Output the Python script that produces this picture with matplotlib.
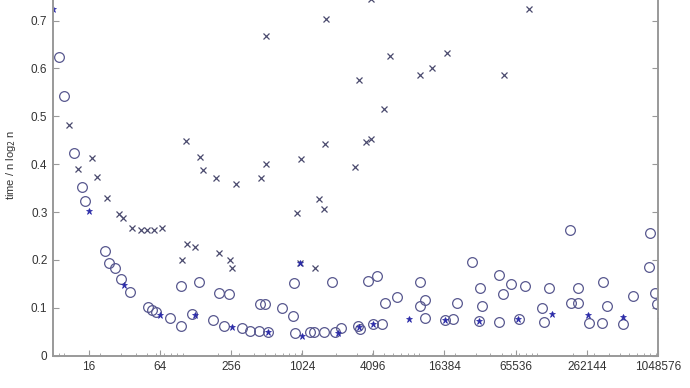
import numpy as np
import matplotlib
matplotlib.use("Agg")
import matplotlib.pyplot as plt
from matplotlib.ticker import FixedLocator, LogLocator, NullFormatter

# circles
n_circ = [9, 10, 12, 14, 15, 22, 24, 27, 30, 36, 51, 55, 60, 78, 96, 96, 120, 137,
          182, 203, 223, 247, 317, 370, 443, 527, 452, 494, 690, 860, 875, 890,
          1200, 1300, 1575, 1830, 1940, 2180, 3050, 3150, 3660, 4100, 4390, 4900,
          5180, 6520, 10100, 10230, 11270, 11300, 16400, 19300, 21000, 28000,
          32000, 32500, 33900, 47000, 47500, 51500, 60300, 69500, 78000, 110000,
          113000, 125000, 190000, 194000, 219000, 222000, 273000, 355000, 360000,
          385000, 535000, 640000, 880000, 890000, 980000, 1020000]
t_circ = [0.623, 0.543, 0.424, 0.353, 0.323, 0.219, 0.193, 0.183, 0.160, 0.134,
          0.102, 0.095, 0.091, 0.078, 0.146, 0.062, 0.087, 0.155, 0.074, 0.132,
          0.063, 0.129, 0.057, 0.052, 0.052, 0.049, 0.109, 0.109, 0.100, 0.084,
          0.151, 0.047, 0.049, 0.049, 0.049, 0.153, 0.049, 0.057, 0.062, 0.055,
          0.156, 0.066, 0.167, 0.066, 0.111, 0.123, 0.153, 0.104, 0.116, 0.078,
          0.075, 0.077, 0.111, 0.196, 0.0725, 0.141, 0.104, 0.169, 0.071, 0.128,
          0.149, 0.076, 0.146, 0.099, 0.071, 0.141, 0.263, 0.111, 0.111, 0.142,
          0.068, 0.068, 0.153, 0.104, 0.066, 0.125, 0.186, 0.256, 0.130, 0.107]

# crosses
n_x = [11, 13, 17, 19, 23, 29, 31, 37, 44, 50, 57, 67, 98, 107, 109, 127, 139,
       150, 192, 202, 252, 261, 281, 463, 504, 504, 935, 977, 998, 1320, 1428,
       1573, 1595, 1630, 2880, 3120, 3550, 3920, 3920, 5000, 5680, 10200, 12900,
       17150, 52000, 84900]
t_x = [0.481, 0.390, 0.414, 0.374, 0.329, 0.296, 0.288, 0.267, 0.262, 0.262,
       0.262, 0.267, 0.200, 0.449, 0.233, 0.228, 0.416, 0.388, 0.372, 0.215,
       0.200, 0.183, 0.358, 0.372, 0.400, 0.668, 0.299, 0.193, 0.410, 0.184,
       0.327, 0.306, 0.442, 0.703, 0.394, 0.576, 0.446, 0.452, 0.745, 0.515,
       0.625, 0.587, 0.602, 0.633, 0.587, 0.724]

# stars
n_star = [8, 16, 32, 64, 128, 261, 527, 977, 1030, 2048, 3100, 4100, 8260, 16400,
          32000, 68800, 134000, 270000, 535000, 1080000]
t_star = [0.724, 0.302, 0.148, 0.086, 0.085, 0.059, 0.049, 0.193, 0.041, 0.047,
          0.060, 0.066, 0.076, 0.075, 0.073, 0.076, 0.0865, 0.085, 0.0815, 0.077]

xticks = [16, 64, 256, 1024, 4096, 16384, 65536, 262144, 1048576]
yticks = [0, 0.1, 0.2, 0.3, 0.4, 0.5, 0.6, 0.7]

plt.rcParams['font.family'] = ['Liberation Sans', 'DejaVu Sans']

fig = plt.figure(figsize=(6.9, 3.88), dpi=100)
ax = fig.add_axes([0.0768, 0.0832, 0.8768, 0.9168])

ax.plot(n_circ, t_circ, 'o', ms=7, mfc='none', mec='#58588f', mew=0.9)
ax.plot(n_x, t_x, 'x', ms=5, mec='#4a4a6e', mew=0.9)
ax.plot(n_star, t_star, '*', ms=5, color='#2b2ba8', mew=0.5)

ax.set_xscale('log', base=2)
ax.set_xlim(8, 1048576)
ax.set_ylim(0, 0.743)
ax.xaxis.set_major_locator(FixedLocator(xticks))
ax.set_xticklabels([str(v) for v in xticks])
ax.xaxis.set_minor_locator(LogLocator(base=10, subs=np.arange(1, 10)))
ax.xaxis.set_minor_formatter(NullFormatter())
ax.set_yticks(yticks)
ax.set_yticklabels(['0', '0.1', '0.2', '0.3', '0.4', '0.5', '0.6', '0.7'])

for s in ['left', 'right', 'bottom']:
    ax.spines[s].set_color('#999999')
    ax.spines[s].set_linewidth(1.4)
ax.spines['top'].set_visible(False)

ax.tick_params(which='both', direction='in', colors='#999999',
               labelcolor='#333333', labelsize=8.5, right=True, top=False)
ax.tick_params(which='major', length=4, width=0.8, pad=4)
ax.tick_params(which='minor', length=2, width=0.6)
ax.tick_params(axis='y', which='minor', left=False, right=False)

ax.set_ylabel('time / n log$_2$ n', fontsize=8, color='#333333')
ax.yaxis.set_label_coords(-0.058, 0.536)

fig.savefig('out.png', dpi=100)
